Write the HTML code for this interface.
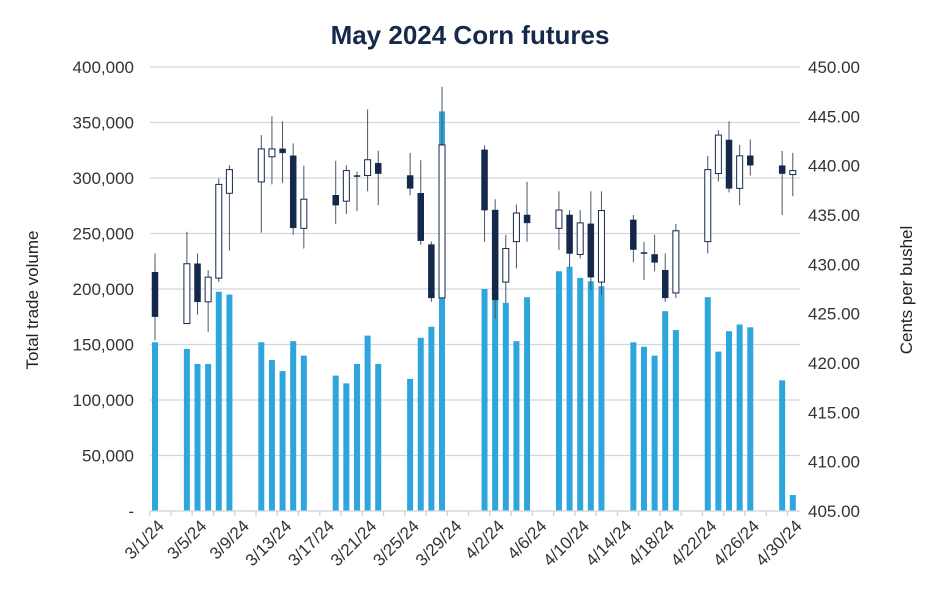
<!DOCTYPE html>
<html><head><meta charset="utf-8"><style>
html,body{margin:0;padding:0;background:#fff;}
svg{display:block;font-family:"Liberation Sans",sans-serif;}
</style></head><body>
<svg id="chart" width="940" height="600" viewBox="0 0 940 600" xmlns="http://www.w3.org/2000/svg">
<text x="470" y="44" text-anchor="middle" font-size="26" font-weight="bold" fill="#16294a">May 2024 Corn futures</text>
<text transform="translate(38,300) rotate(-90)" text-anchor="middle" font-size="17" fill="#222">Total trade volume</text>
<text transform="translate(912,290) rotate(-90)" text-anchor="middle" font-size="17" fill="#222">Cents per bushel</text>
<g id="grid"></g>
<g id="bars"></g>
<g id="candles"></g>
<g id="axes"></g>
</svg>
<script>
const dates=["3/1","3/4","3/5","3/6","3/7","3/8","3/11","3/12","3/13","3/14","3/15","3/18","3/19","3/20","3/21","3/22","3/25","3/26","3/27","3/28","4/1","4/2","4/3","4/4","4/5","4/8","4/9","4/10","4/11","4/12","4/15","4/16","4/17","4/18","4/19","4/22","4/23","4/24","4/25","4/26","4/29","4/30"];
const volume=[152000,146000,132500,132500,197500,195000,152000,136000,126000,153000,140000,122000,115000,132500,158000,132500,119000,156000,166000,360000,200000,193000,187500,153000,192600,216000,220000,210000,207000,202500,152000,148000,140000,180000,163000,192600,143600,162000,168000,165500,117700,14400];
const openP=[429.2,424.0,430.06,426.2,428.6,437.2,438.35,440.9,441.7,441.0,433.65,437.0,436.4,439.0,439.0,440.25,439.0,437.2,432.0,426.6,441.6,435.5,428.2,432.3,435.0,433.65,435.0,431.0,434.1,428.2,434.5,431.2,431.0,429.4,427.1,432.3,439.2,442.6,437.7,441.0,440.0,439.1];
const closeP=[424.7,430.06,426.2,428.7,438.1,439.6,441.7,441.7,441.3,433.7,436.6,436.0,439.5,438.9,440.6,439.2,437.7,432.4,426.6,442.1,435.5,426.4,431.6,435.2,434.2,435.5,431.1,434.2,428.7,435.45,431.5,431.1,430.2,426.6,433.4,439.6,443.1,437.7,441.0,440.05,439.2,439.5];
const highP=[431.1,433.3,431.1,429.4,438.7,440.05,443.1,445.0,444.5,442.25,440.0,440.5,440.05,439.4,445.7,441.5,441.3,440.55,432.3,448.0,442.05,436.6,433.0,436.05,438.35,437.4,435.5,435.5,437.4,437.4,435.0,432.3,433.0,431.1,434.1,441.0,443.6,444.5,442.1,442.65,441.5,441.3];
const lowP=[422.3,424.0,424.9,423.15,428.2,431.4,433.2,438.1,438.25,433.0,431.6,434.1,435.1,435.4,437.4,436.0,437.0,432.0,426.2,426.6,432.3,424.5,426.1,429.6,432.3,431.45,429.65,430.6,427.4,426.9,430.2,428.4,429.3,426.2,426.6,431.1,438.4,437.3,436.0,439.0,435.0,436.9];
const leftTicks=[0,50000,100000,150000,200000,250000,300000,350000,400000];
const leftTickLabels=["-","50,000","100,000","150,000","200,000","250,000","300,000","350,000","400,000"];
const rightTickLabels=["405.00","410.00","415.00","420.00","425.00","430.00","435.00","440.00","445.00","450.00"];
const xTickLabels=["3/1/24","3/5/24","3/9/24","3/13/24","3/17/24","3/21/24","3/25/24","3/29/24","4/2/24","4/6/24","4/10/24","4/14/24","4/18/24","4/22/24","4/26/24","4/30/24"];

const NS="http://www.w3.org/2000/svg";
const X0=155,DX=10.63,YB=511,YT=67,PL=150,PR=800;
function dayIndex(s){const p=s.split("/").map(Number);return p[0]===3?p[1]-1:30+p[1];}
function x(s){return X0+dayIndex(s)*DX;}
function yV(v){return YB-(v/400000)*(YB-YT);}
function yP(p){return YB-((p-405)/45)*(YB-YT);}
function mk(tag,attrs,parent){const e=document.createElementNS(NS,tag);for(const k in attrs)e.setAttribute(k,attrs[k]);parent.appendChild(e);return e;}
const grid=document.getElementById("grid"),bars=document.getElementById("bars"),cg=document.getElementById("candles"),ax=document.getElementById("axes");
leftTicks.forEach((v,i)=>{
  const y=yV(v);
  if(i>0){const l=mk("line",{x1:PL,x2:PR,y1:y,y2:y,stroke:"#d4d6da","stroke-width":1.3},grid);
  
  }
  const t=mk("text",{x:134,y:y+6,"text-anchor":"end","font-size":17,fill:"#333"},ax);t.textContent=leftTickLabels[i];
  
  
});
rightTickLabels.forEach((s,i)=>{
  const y=yP(405+i*5);
  const t=mk("text",{x:808,y:y+6,"text-anchor":"start","font-size":17,fill:"#333"},ax);t.textContent=s;
  
  
});
dates.forEach((d,i)=>{
  const cx=x(d),yt=yV(volume[i]);
  const b=mk("rect",{x:cx-3,y:yt,width:6,height:YB-yt,fill:"#2ea6dd"},bars);
  
  
});
dates.forEach((d,i)=>{
  const cx=x(d),o=openP[i],c=closeP[i];
  const g=mk("g",{},cg);
  
  
  mk("line",{x1:cx,x2:cx,y1:yP(highP[i]),y2:yP(lowP[i]),stroke:"#4a5568","stroke-width":1},g);
  const top=yP(Math.max(o,c)),bot=yP(Math.min(o,c));
  const up=c>=o;
  mk("rect",{x:cx-3,y:top,width:6,height:Math.max(1,bot-top),fill:up?"#fff":"#14284b",stroke:"#14284b","stroke-width":up?1:0.5},g);
});
mk("line",{x1:PL,x2:PR,y1:YB,y2:YB,stroke:"#cfd2d6","stroke-width":1.3},ax);
for(let k=0;k<=30;k++){
  const tx=X0-DX/2+k*2*DX;
  mk("line",{x1:tx,x2:tx,y1:YB,y2:YB+5,stroke:"#cfd2d6","stroke-width":1.3},ax);
}
xTickLabels.forEach((s,i)=>{
  const tx=X0+i*4*DX+10,ty=527;
  const t=mk("text",{x:tx,y:ty,"text-anchor":"end","font-size":17,fill:"#333",transform:`rotate(-45 ${tx} ${ty})`},ax);
  t.textContent=s;
  
  
});
</script>
</body></html>
